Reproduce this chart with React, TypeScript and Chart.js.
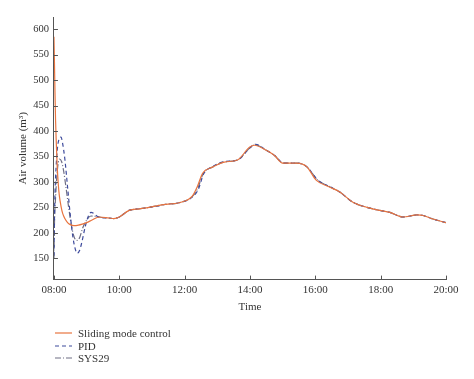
import React, { useEffect, useRef } from "react";
import { Chart, registerables } from "chart.js";

Chart.register(...registerables);

// time in minutes after 08:00
const X_TICKS = [0, 120, 240, 360, 480, 600, 720];
const X_LABELS = ["08:00", "10:00", "12:00", "14:00", "16:00", "18:00", "20:00"];
const Y_TICKS = [150, 200, 250, 300, 350, 400, 450, 500, 550, 600];

const SMC_T = [0,1,2,3,4,6,8,10,13,16,20,25,30,37,45,52,60,70,83,101,110,120,138,157,175,193,206,230,254,263,273,291,313,337,359,368,390,405,420,446,464,482,506,525,549,575,598,617,641,667,678,696,720];
const SMC_V = [585,530,470,420,385,330,295,272,252,238,228,220,216,214,215,217,220,225,231,229,228,231,244,247,250,254,256,259,272,290,317,329,339,343,368,372,362,352,337,337,330,303,290,280,260,250,244,240,231,235,234,227,220];

const PID_T = [0,1,2,4,6,9,13,16,20,25,30,35,40,43,47,52,57,63,68,73,80,88,101,110,120,138,157,175,193,206,230,254,265,275,291,313,337,361,370,390,405,422,446,464,485,508,525,549,575,598,617,641,667,678,696,720];
const PID_V = [155,230,280,330,362,383,388,375,345,290,235,190,165,160,165,185,210,232,240,238,232,230,229,228,231,244,247,250,253,256,259,270,285,316,330,340,343,368,374,362,352,337,337,330,303,290,280,260,250,244,240,231,235,234,227,220];

const SYS_T = [0,1,3,6,10,14,18,22,27,32,37,42,47,53,60,68,78,88,101,110,120,138,157,175,193,206,230,254,264,274,291,313,337,360,369,390,405,421,446,464,484,507,525,549,575,598,617,641,667,678,696,720];
const SYS_V = [150,220,270,320,345,340,320,290,250,215,192,185,190,210,225,233,232,230,229,228,231,244,247,250,254,256,259,271,287,316,329,339,343,367,373,362,352,337,337,330,304,290,280,260,250,244,240,231,235,234,227,220];

const SERIES = ["Sliding mode control", "PID", "SYS29"];
const COLORS = ["#e8743f", "#3d4a9c", "#6e6e84"];
const DASHES: number[][] = [[], [4, 3], [6, 2, 1, 2]];

const FONT = "'Liberation Serif', 'DejaVu Serif', serif";

const toPts = (t: number[], v: number[]) => t.map((x, i) => ({ x, y: v[i] }));

const innerTicks = {
  id: "innerTicks",
  afterDatasetsDraw(chart: any) {
    const { ctx, chartArea, scales } = chart;
    const x = scales.x;
    const y = scales.y;
    ctx.save();
    ctx.strokeStyle = "#555";
    ctx.lineWidth = 1;
    y.ticks.forEach((t: any) => {
      const py = Math.round(y.getPixelForValue(t.value)) + 0.5;
      ctx.beginPath();
      ctx.moveTo(chartArea.left, py);
      ctx.lineTo(chartArea.left + 4, py);
      ctx.stroke();
    });
    x.ticks.forEach((t: any) => {
      const px = Math.round(x.getPixelForValue(t.value)) + 0.5;
      ctx.beginPath();
      ctx.moveTo(px, chartArea.bottom);
      ctx.lineTo(px, chartArea.bottom - 4);
      ctx.stroke();
    });
    ctx.restore();
  },
};

export default function App() {
  const ref = useRef<HTMLCanvasElement>(null);
  useEffect(() => {
    document.body.style.margin = "0";
    const data = [toPts(SMC_T, SMC_V), toPts(PID_T, PID_V), toPts(SYS_T, SYS_V)];
    const chart = new Chart(ref.current!, {
      type: "line",
      data: {
        datasets: SERIES.map((label, i) => ({
          label,
          data: data[i],
          borderColor: COLORS[i],
          borderWidth: 1.2,
          borderDash: DASHES[i],
          pointRadius: 0,
          fill: false,
          cubicInterpolationMode: "monotone" as const,
          order: i,
        })),
      },
      options: {
        animation: false,
        responsive: false,
        maintainAspectRatio: false,
        layout: { padding: { left: 17, right: 28, top: 17, bottom: 65 } },
        plugins: { legend: { display: false }, tooltip: { enabled: false } },
        scales: {
          x: {
            type: "linear",
            min: 0,
            max: 720,
            afterBuildTicks: (s: any) => {
              s.ticks = X_TICKS.map((v) => ({ value: v }));
            },
            ticks: {
              padding: 4,
              maxRotation: 0,
              color: "#333",
              font: { family: FONT, size: 11 },
              callback: (v: any) => X_LABELS[X_TICKS.indexOf(Number(v))] ?? "",
            },
            grid: { display: true, drawOnChartArea: false, drawTicks: false },
            border: { display: true, color: "#555" },
            title: {
              display: true,
              text: "Time",
              color: "#333",
              font: { family: FONT, size: 11 },
              padding: { top: 0, bottom: 0 },
            },
          },
          y: {
            min: 108,
            max: 624,
            afterBuildTicks: (s: any) => {
              s.ticks = Y_TICKS.map((v) => ({ value: v }));
            },
            ticks: {
              padding: 5,
              color: "#333",
              font: { family: FONT, size: 10.5 },
            },
            grid: { display: true, drawOnChartArea: false, drawTicks: false },
            border: { display: true, color: "#555" },
            title: {
              display: true,
              text: "Air volume (m³)",
              color: "#333",
              font: { family: FONT, size: 11 },
              padding: { top: 0, bottom: -2 },
            },
          },
        },
      },
      plugins: [innerTicks],
    });
    return () => chart.destroy();
  }, []);

  return (
    <div style={{ position: "relative", width: 474, height: 379, background: "#fff" }}>
      <canvas ref={ref} width={474} height={379} style={{ display: "block" }} />
      <div
        style={{
          position: "absolute",
          left: 55,
          top: 327,
          fontFamily: FONT,
          fontSize: 11,
          color: "#333",
          lineHeight: "12.5px",
        }}
      >
        {SERIES.map((s, i) => (
          <div key={s} style={{ display: "flex", alignItems: "center", height: 12.5 }}>
            <svg width={17} height={4} style={{ marginRight: 6 }}>
              <line
                x1={0}
                y1={2}
                x2={17}
                y2={2}
                stroke={COLORS[i]}
                strokeWidth={1.2}
                strokeDasharray={DASHES[i].length ? DASHES[i].join(" ") : undefined}
              />
            </svg>
            <span>{s}</span>
          </div>
        ))}
      </div>
    </div>
  );
}
